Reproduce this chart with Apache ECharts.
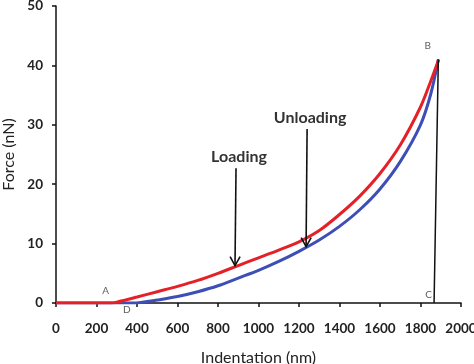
<!DOCTYPE html>
<html>
<head>
<meta charset="utf-8">
<script src="https://cdn.jsdelivr.net/npm/echarts@6/dist/echarts.min.js"></script>
<style>html,body{margin:0;padding:0;background:#fff}#c{width:474px;height:364px}</style>
</head>
<body>
<div id="c"></div>
<script>
const xTicks = [0, 200, 400, 600, 800, 1000, 1200, 1400, 1600, 1800, 2000];
const yTicks = [0, 10, 20, 30, 40, 50];
const loadingX = [0, 100, 200, 270, 300, 400, 500, 600, 700, 800, 900, 1000, 1100, 1200, 1300, 1400, 1500, 1600, 1700, 1800, 1850, 1890];
const loadingF = [0, 0, 0, 0, 0.15, 1.0, 1.9, 2.8, 3.8, 5.0, 6.3, 7.6, 8.9, 10.3, 12.2, 14.9, 18.0, 21.8, 26.6, 33.0, 37.3, 41.0];
const unloadingX = [0, 200, 390, 450, 500, 600, 700, 800, 900, 1000, 1100, 1200, 1300, 1400, 1500, 1600, 1700, 1800, 1850, 1888];
const unloadingF = [0, 0, 0, 0.25, 0.5, 1.1, 1.9, 2.9, 4.2, 5.5, 7.0, 8.7, 10.6, 12.9, 15.7, 19.2, 23.8, 30.0, 35.1, 41.0];
const cbX = [1867, 1888];
const cbF = [0, 41];
const pointLabels = ['A', 'B', 'C', 'D'];
const pointX = [245, 1836, 1840, 350];
const pointF = [0.3, 41.0, 0.3, 0];
const arrowNames = ['Loading', 'Unloading'];
const arrowStartX = [889, 1240];
const arrowStartF = [22.7, 29.3];
const arrowEndX = [884, 1235];
const arrowEndF = [6.3, 9.5];

const zip = (a, b) => a.map((v, i) => [v, b[i]]);
const chart = echarts.init(document.getElementById('c'));
const font = 'Lato, "Open Sans", sans-serif';

chart.setOption({
  animation: false,
  backgroundColor: '#fff',
  grid: { left: 56, right: 13, top: 6, bottom: 61, outerBoundsMode: 'none', containLabel: false },
  xAxis: {
    type: 'value', min: 0, max: 2000, interval: 200,
    name: 'Indentation (nm)', nameLocation: 'middle', nameGap: 47,
    nameTextStyle: { fontFamily: font, fontSize: 16, color: '#222' },
    axisLine: { lineStyle: { color: '#111', width: 1.5 } },
    axisTick: { show: true, length: 4, lineStyle: { color: '#111', width: 1.5 } },
    axisLabel: { fontFamily: font, fontSize: 13.5, fontWeight: 'bold', color: '#222', margin: 19,
      formatter: v => xTicks.includes(v) ? String(v) : '' },
    splitLine: { show: false }
  },
  yAxis: {
    type: 'value', min: 0, max: 50, interval: 10,
    name: 'Force (nN)', nameLocation: 'middle', nameGap: 37, nameRotate: 90,
    nameTextStyle: { fontFamily: font, fontSize: 16, color: '#222' },
    axisLine: { show: true, lineStyle: { color: '#111', width: 1.5 } },
    axisTick: { show: true, length: 4, lineStyle: { color: '#111', width: 1.5 } },
    axisLabel: { fontFamily: font, fontSize: 13.5, fontWeight: 'bold', color: '#222', margin: 13,
      formatter: v => yTicks.includes(v) ? String(v) : '' },
    splitLine: { show: false }
  },
  series: [
    {
      type: 'line', name: 'Unloading', data: zip(unloadingX, unloadingF), smooth: 0.3,
      symbol: 'none', lineStyle: { color: '#3d4fb5', width: 3 }, z: 3
    },
    {
      type: 'line', name: 'Loading', data: zip(loadingX, loadingF), smooth: 0.3,
      symbol: 'none', lineStyle: { color: '#e52128', width: 3 }, z: 4
    },
    {
      type: 'line', name: 'CB', data: zip(cbX, cbF), symbol: 'none',
      lineStyle: { color: '#111', width: 1.5 }, z: 5
    },
    {
      type: 'scatter', data: zip(pointX, pointF), symbolSize: 0, clip: false, z: 6,
      label: {
        show: true, fontFamily: font, fontSize: 10, color: '#333',
        formatter: p => pointLabels[p.dataIndex],
        position: 'top'
      },
      labelLayout: p => {
        const off = [[0, 0], [0, -4], [0, 4], [0, 17]][p.dataIndex];
        return { dx: off[0], dy: off[1] };
      }
    },
    {
      type: 'custom', z: 7, clip: false,
      data: arrowNames.map((n, i) => [arrowStartX[i], arrowStartF[i], arrowEndX[i], arrowEndF[i]]),
      renderItem: (params, api) => {
        const s = api.coord([api.value(0), api.value(1)]);
        const e = api.coord([api.value(2), api.value(3)]);
        const dx = e[0] - s[0], dy = e[1] - s[1];
        const len = Math.sqrt(dx * dx + dy * dy);
        const ux = dx / len, uy = dy / len;
        const px = -uy, py = ux;
        const h = 9, w = 5;
        const l = [e[0] - ux * h + px * w, e[1] - uy * h + py * w];
        const r = [e[0] - ux * h - px * w, e[1] - uy * h - py * w];
        const name = arrowNames[params.dataIndex];
        return {
          type: 'group',
          children: [
            { type: 'line', shape: { x1: s[0], y1: s[1], x2: e[0], y2: e[1] },
              style: { stroke: '#111', lineWidth: 1.6 } },
            { type: 'polyline', shape: { points: [l, e, r] },
              style: { stroke: '#111', lineWidth: 1.6, fill: null } },
            { type: 'text', x: s[0] + 3, y: s[1] - 11,
              style: { text: name, fontFamily: font, fontSize: 16, fontWeight: 'bold',
                fill: '#333', align: 'center', verticalAlign: 'middle' } }
          ]
        };
      }
    }
  ]
});
</script>
</body>
</html>
